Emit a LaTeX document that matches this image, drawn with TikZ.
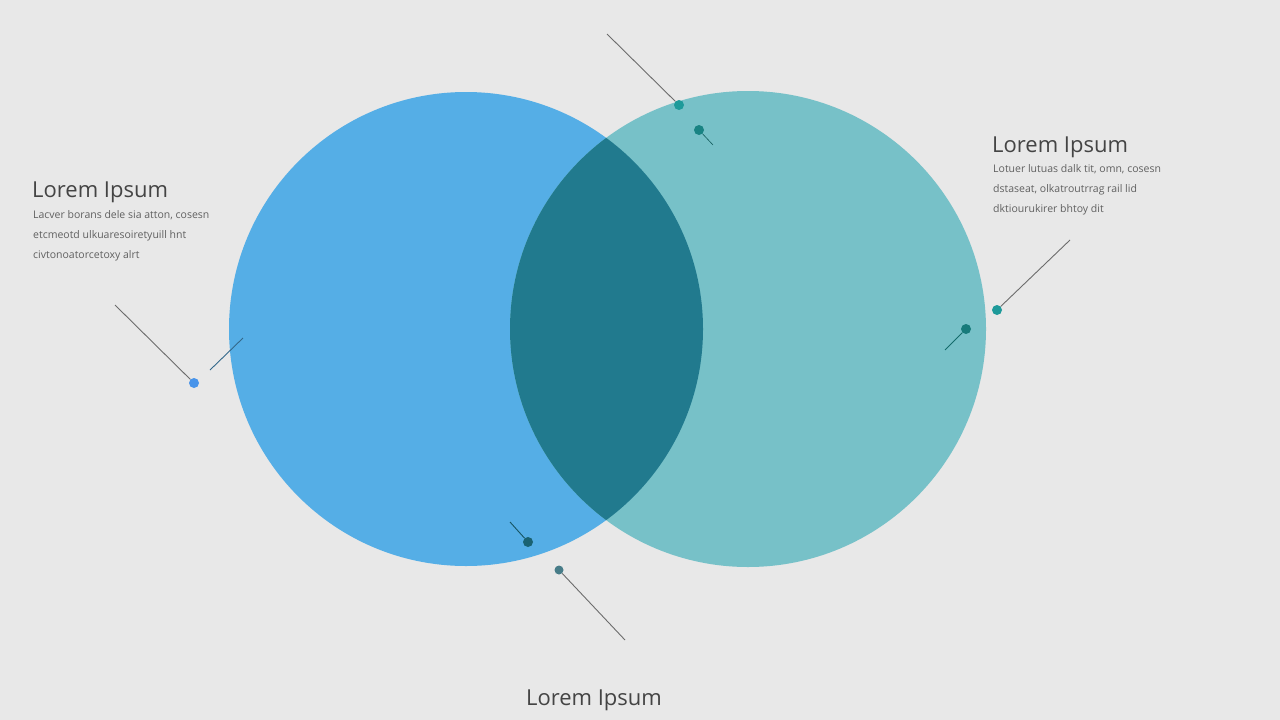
\documentclass[tikz,border=0pt]{standalone}
\usepackage{fontspec}
\setmainfont{Open Sans}
\definecolor{bg}{HTML}{E8E8E8}
\definecolor{cblue}{HTML}{55AEE6}
\definecolor{cteal}{HTML}{77C1C8}
\definecolor{clens}{HTML}{217A8E}
\definecolor{ctext}{HTML}{444444}
\definecolor{dteal}{HTML}{1E9A9A}
\begin{document}
\begin{tikzpicture}[x=1pt,y=-1pt,
  ttl/.style={font=\fontsize{22}{26}\selectfont,text=ctext,anchor=west,inner sep=0},
  body/.style={font=\fontsize{10.5}{20}\selectfont,text=ctext!85,anchor=north west,align=left,inner sep=0},
  lead/.style={draw=gray!85!black,line width=0.9pt},
  dot/.style={circle,inner sep=0,minimum size=10pt}]
\fill[bg] (0,0) rectangle (1280,720);
\useasboundingbox (0,0) rectangle (1280,720);
\fill[cblue] (466,329) circle (237);
\fill[cteal] (748,329) circle (238);
\begin{scope}
\clip (466,329) circle (237);
\fill[clens] (748,329) circle (238);
\end{scope}
% left
\node[ttl] (lt) at (32,192) {Lorem Ipsum};
\node[body] (lb) at (33,210) {Lacver borans dele sia atton, cosesn\\etcmeotd ulkuaresoiretyuill hnt\\civtonoatorcetoxy alrt};
\coordinate (l1) at (115,305);
\node[dot,fill=cblue!85!blue] (ld) at (194,383) {};
\draw[lead] (l1) -- (ld);
\coordinate (l2) at (210,370); \coordinate (l3) at (243,338);
\draw[lead,cblue!60!black] (l2) -- (l3);
% right
\node[ttl] (rt) at (992,147) {Lorem Ipsum};
\node[body] (rb) at (993,164) {Lotuer lutuas dalk tit, omn, cosesn\\dstaseat, olkatroutrrag rail lid\\dktiourukirer bhtoy dit};
\coordinate (r1) at (1070,240);
\node[dot,fill=dteal] (rd) at (997,310) {};
\draw[lead] (r1) -- (rd);
\node[dot,fill=dteal!80!black] (rd2) at (966,329) {};
\coordinate (r2) at (945,350);
\draw[lead,dteal!70!black] (rd2) -- (r2);
% top
\coordinate (t1) at (607,34);
\node[dot,fill=dteal] (td) at (679,105) {};
\draw[lead] (t1) -- (td);
\node[dot,fill=dteal!85!black] (td2) at (699,130) {};
\coordinate (t2) at (713,145);
\draw[lead,dteal!60!black,line width=0.6pt] (td2) -- (t2);
% bottom
\node[dot,fill=clens!80!black] (bd) at (528,542) {};
\coordinate (b0) at (510,522);
\draw[lead,clens!70!black] (b0) -- (bd);
\node[dot,minimum size=9pt,fill=clens!60!gray] (bd2) at (559,570) {};
\coordinate (b1) at (625,640);
\draw[lead] (bd2) -- (b1);
\node[ttl,anchor=center] (bt) at (594,700) {Lorem Ipsum};
\end{tikzpicture}
\end{document}
